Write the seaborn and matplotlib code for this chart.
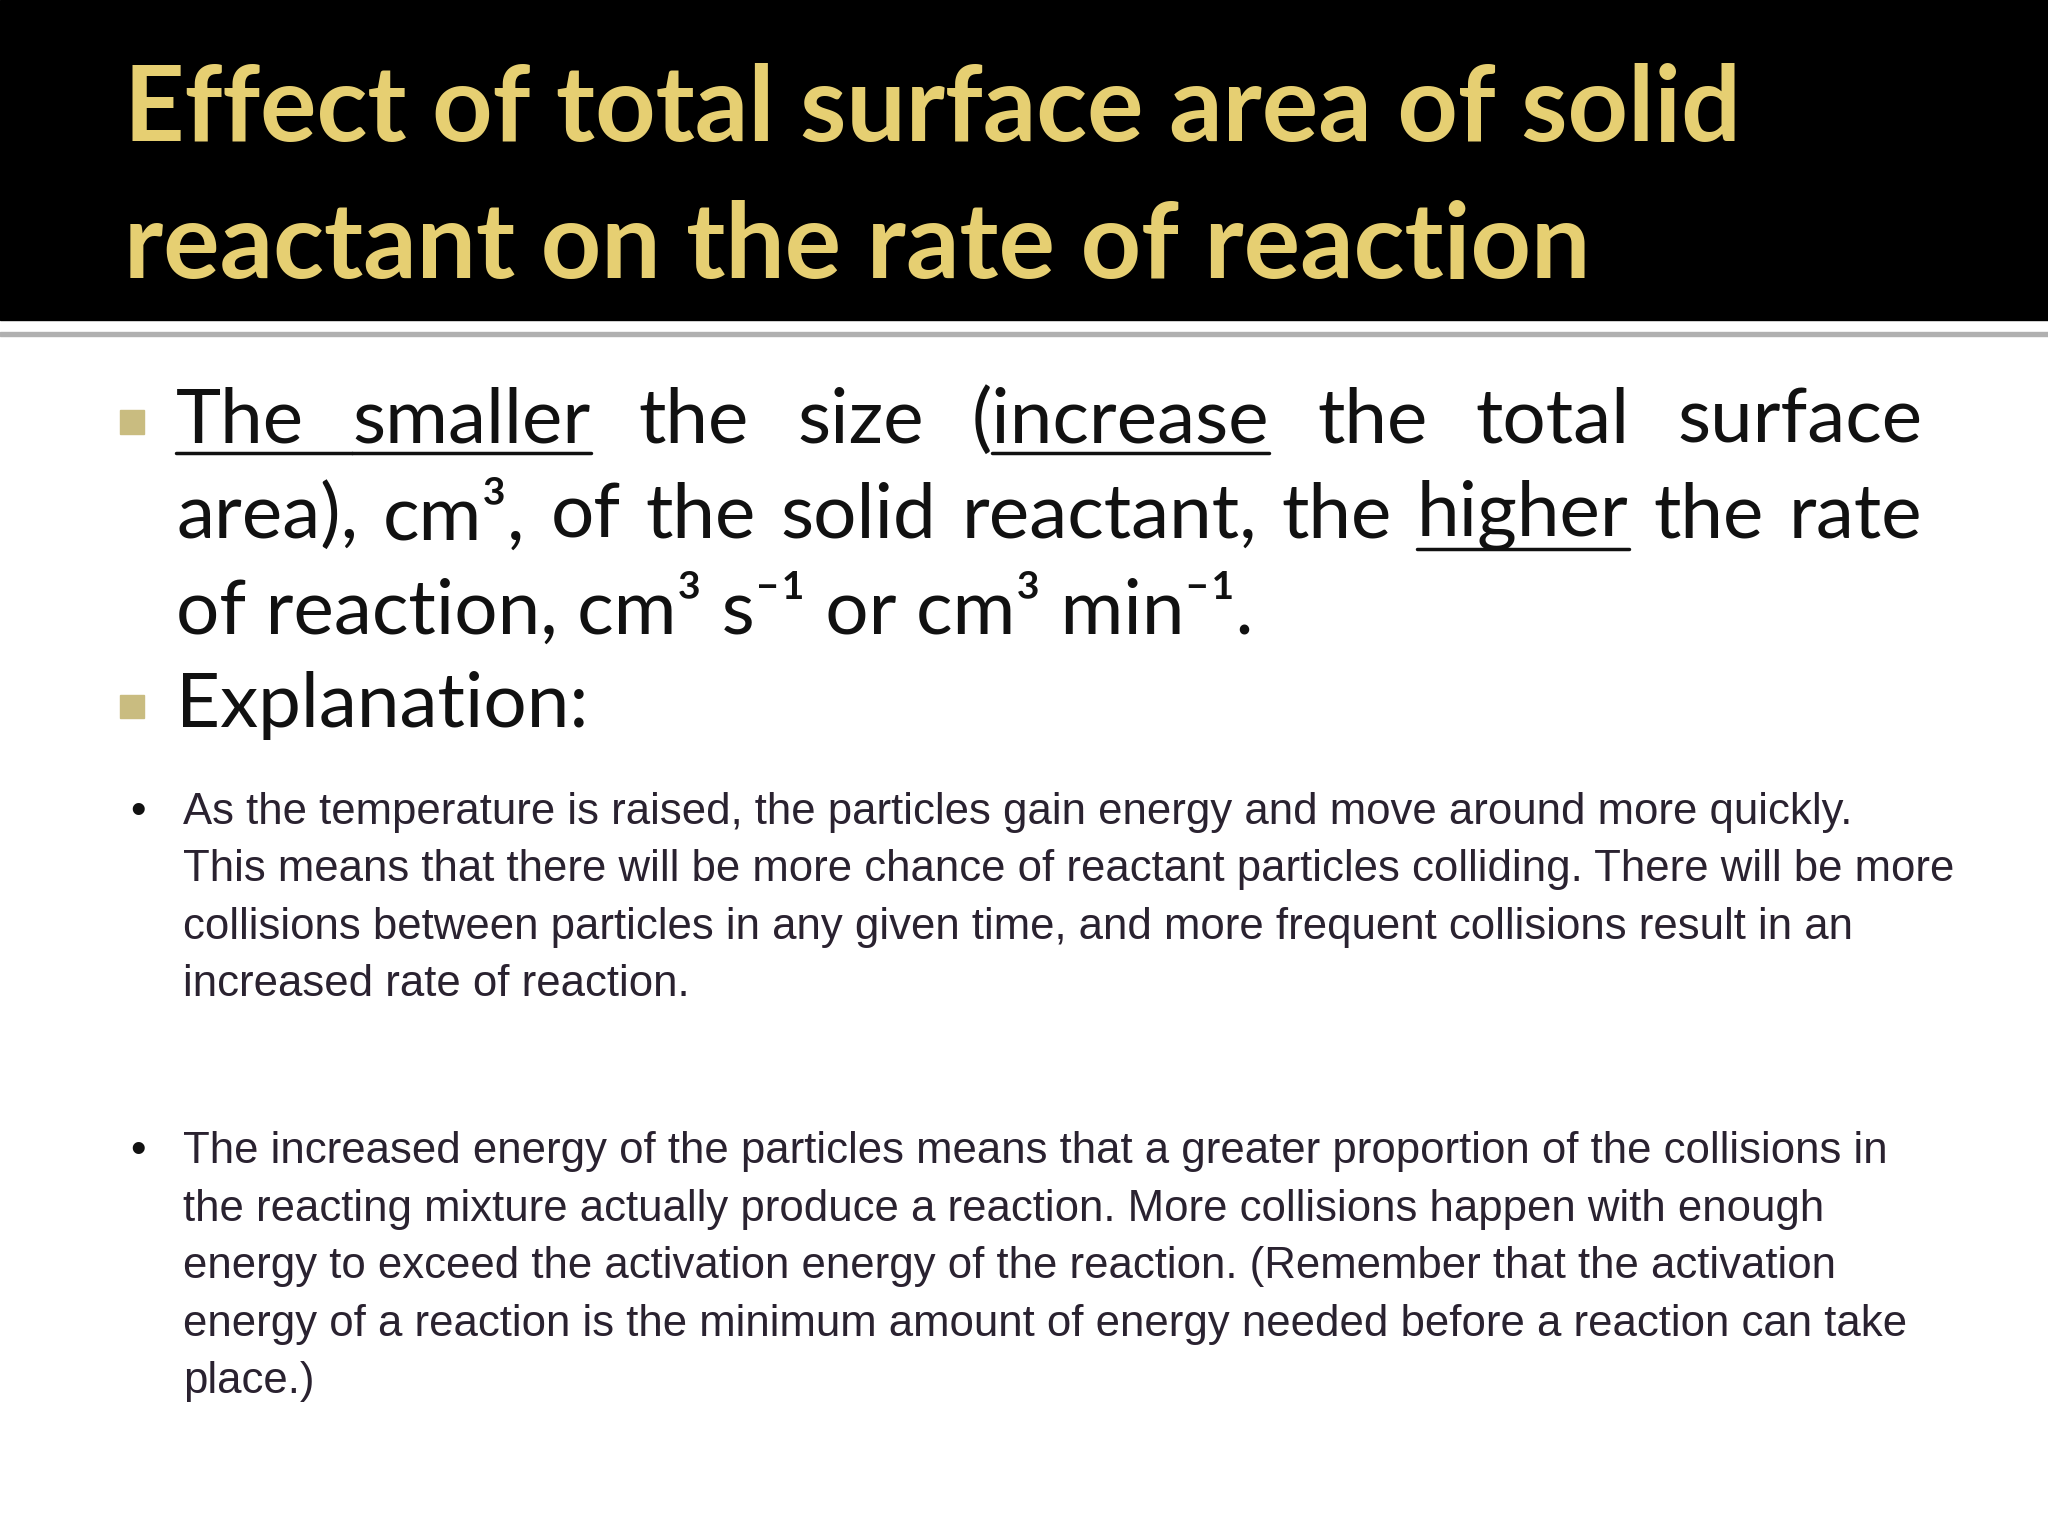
import matplotlib
matplotlib.use("Agg")
import matplotlib.pyplot as plt
import seaborn as sns
from matplotlib.patches import Rectangle

sns.set_theme(style="white")
plt.rcParams['font.family'] = ['Lato', 'DejaVu Sans']

title_lines = ["Effect of total surface area of solid", "reactant on the rate of reaction"]
# (word, underline, prefix-not-underlined, underline continues into next gap)
para_lines = [
    [("The", True, "", True), ("smaller", True, "", False), ("the", False, "", False), ("size", False, "", False),
     ("(increase", True, "(", False), ("the", False, "", False), ("total", False, "", False), ("surface", False, "", False)],
    [("area),", False, "", False), ("cm³,", False, "", False), ("of", False, "", False), ("the", False, "", False),
     ("solid", False, "", False), ("reactant,", False, "", False), ("the", False, "", False), ("higher", True, "", False),
     ("the", False, "", False), ("rate", False, "", False)],
    [("of reaction, cm³ s⁻¹ or cm³ min⁻¹.", False, "", False)],
]
bullet2 = "Explanation:"
expl1 = ["As the temperature is raised, the particles gain energy and move around more quickly.",
         "This means that there will be more chance of reactant particles colliding. There will be more",
         "collisions between particles in any given time, and more frequent collisions result in an",
         "increased rate of reaction."]
expl2 = ["The increased energy of the particles means that a greater proportion of the collisions in",
         "the reacting mixture actually produce a reaction. More collisions happen with enough",
         "energy to exceed the activation energy of the reaction. (Remember that the activation",
         "energy of a reaction is the minimum amount of energy needed before a reaction can take",
         "place.)"]

W, H = 1568, 1176
fig = plt.figure(figsize=(20.48, 15.36), dpi=100)
fig.patch.set_facecolor("white")
def fx(x): return x / W
def fy(y): return 1 - y / H

fig.add_artist(Rectangle((0, fy(245)), 1, 245 / H, transform=fig.transFigure, color="black"))
fig.add_artist(Rectangle((0, fy(257)), 1, 3 / H, transform=fig.transFigure, color="#b0b0b0"))
for i, t in enumerate(title_lines):
    fig.text(fx(95), fy(85 + 105 * i), t, color="#E6CF72", fontsize=76, fontweight="bold", va="center")

r = fig.canvas.get_renderer()
fs = 55
x0, x1 = 135, 1472
ys = [322, 395, 467]
def width(s):
    t = fig.text(0, 0, s, fontsize=fs)
    w = t.get_window_extent(r).width * W / 2048
    t.remove()
    return w
for li, (y, words) in enumerate(zip(ys, para_lines)):
    widths = [width(w[0]) for w in words]
    justify = li < 2
    gap = (x1 - x0 - sum(widths)) / (len(words) - 1) if justify and len(words) > 1 else 0
    x = x0
    for wd, (w, ul, pre, cont) in zip(widths, words):
        fig.text(fx(x), fy(y), w, fontsize=fs, color="#111111", va="center")
        if ul:
            xs = x + (width(pre) if pre else 0)
            xe = x + wd + (gap if cont else 0)
            fig.add_artist(plt.Line2D([fx(xs), fx(xe)], [fy(y + 25)] * 2, transform=fig.transFigure,
                                      color="#111111", lw=2.5))
        x += wd + gap
for y in (322, 540):
    fig.add_artist(Rectangle((fx(92), fy(y + 10)), 18 / W, 18 / H, transform=fig.transFigure, color="#C9BC80"))
fig.text(fx(x0), fy(540), bullet2, fontsize=fs, color="#111111", va="center")

for start, lines in ((622, expl1), (882, expl2)):
    fig.text(fx(100), fy(start), "•", fontsize=32, color="#111111", va="center", family="Liberation Sans")
    for k, l in enumerate(lines):
        fig.text(fx(140), fy(start + 44 * k), l, fontsize=31.5, color="#2a2230", va="center",
                 family="Liberation Sans")

fig.savefig("out.png", dpi=100, facecolor="white")
